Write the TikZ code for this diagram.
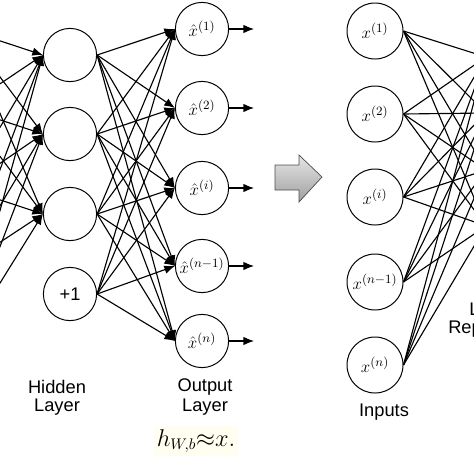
\documentclass[tikz,border=0pt]{standalone}
\usepackage{fontspec}
\setsansfont{Liberation Sans}
\usepackage{amsmath}
\usetikzlibrary{arrows.meta}

\begin{document}
\begin{tikzpicture}[x = 0.025cm, y = -0.025cm,
	unit/.style = {circle, draw, line width = 0.7pt, minimum size = 1.33cm, inner sep = 0pt, font = \fontsize{13}{15}\selectfont},
	feed/.style = {-{Latex[length = 7.5pt, width = 6pt]}, line width = 0.8pt},
	link/.style = {line width = 0.8pt},
	caption/.style = {font = \sffamily\fontsize{13}{15}\selectfont, inner sep = 0pt}]
	\useasboundingbox (0, 0) rectangle (474, 474);
	\clip (0, 0) rectangle (474, 474);

	% left net: inputs lie outside the frame
	\coordinate (inA) at (-36,  29);
	\coordinate (inB) at (-36, 108);
	\coordinate (inC) at (-36, 188);
	\coordinate (inD) at (-36, 266);
	\coordinate (inE) at (-36, 341);
	\node[unit] (hidA) at (70,  55) {};
	\node[unit] (hidB) at (70, 134) {};
	\node[unit] (hidC) at (70, 214) {};
	\node[unit, font = \sffamily\fontsize{13}{15}\selectfont] (bias) at (70, 294) {+1};
	\node[unit] (outA) at (202,  29) {$\hat{x}^{(1)}$};
	\node[unit] (outB) at (202, 108) {$\hat{x}^{(2)}$};
	\node[unit] (outC) at (202, 188) {$\hat{x}^{(i)}$};
	\node[unit] (outD) at (202, 266) {$\hat{x}^{(n-1)}$};
	\node[unit] (outE) at (202, 341) {$\hat{x}^{(n)}$};
	\coordinate (endA) at (254,  29);
	\coordinate (endB) at (254, 108);
	\coordinate (endC) at (254, 188);
	\coordinate (endD) at (254, 266);
	\coordinate (endE) at (254, 341);

	\draw[feed] (inA) -- (hidA.west);
	\draw[feed] (inB) -- (hidA.west);
	\draw[feed] (inC) -- (hidA.west);
	\draw[feed] (inD) -- (hidA.west);
	\draw[feed] (inE) -- (hidA.west);
	\draw[feed] (inA) -- (hidB.west);
	\draw[feed] (inB) -- (hidB.west);
	\draw[feed] (inC) -- (hidB.west);
	\draw[feed] (inD) -- (hidB.west);
	\draw[feed] (inE) -- (hidB.west);
	\draw[feed] (inA) -- (hidC.west);
	\draw[feed] (inB) -- (hidC.west);
	\draw[feed] (inC) -- (hidC.west);
	\draw[feed] (inD) -- (hidC.west);
	\draw[feed] (inE) -- (hidC.west);

	\draw[feed] (hidA.east) -- (outA.west);
	\draw[feed] (hidA.east) -- (outB.west);
	\draw[feed] (hidA.east) -- (outC.west);
	\draw[feed] (hidA.east) -- (outD.west);
	\draw[feed] (hidA.east) -- (outE.west);
	\draw[feed] (hidB.east) -- (outA.west);
	\draw[feed] (hidB.east) -- (outB.west);
	\draw[feed] (hidB.east) -- (outC.west);
	\draw[feed] (hidB.east) -- (outD.west);
	\draw[feed] (hidB.east) -- (outE.west);
	\draw[feed] (hidC.east) -- (outA.west);
	\draw[feed] (hidC.east) -- (outB.west);
	\draw[feed] (hidC.east) -- (outC.west);
	\draw[feed] (hidC.east) -- (outD.west);
	\draw[feed] (hidC.east) -- (outE.west);
	\draw[feed] (bias.east) -- (outA.west);
	\draw[feed] (bias.east) -- (outB.west);
	\draw[feed] (bias.east) -- (outC.west);
	\draw[feed] (bias.east) -- (outD.west);
	\draw[feed] (bias.east) -- (outE.west);

	\draw[feed] (outA.east) -- (endA);
	\draw[feed] (outB.east) -- (endB);
	\draw[feed] (outC.east) -- (endC);
	\draw[feed] (outD.east) -- (endD);
	\draw[feed] (outE.east) -- (endE);

	\node[caption] (hidText) at (57, 387) {Hidden};
	\node[caption] (hidText2) at (57, 407) {Layer};
	\node[caption] (outText) at (205, 387) {Output};
	\node[caption] (outText2) at (205, 407) {Layer};
	\node[fill = yellow!6, inner sep = 2pt, font = \fontsize{16}{18}\selectfont] (approx) at (196, 441) {$h_{W,b}{\approx}x.$};

	% gray block arrow
	\shade[top color = gray!20, bottom color = gray!75, draw = gray!60!black, line width = 0.5pt]
		(275, 165) -- (299, 165) -- (299, 155) -- (322, 177) -- (299, 202) -- (299, 190) -- (275, 190) -- cycle;

	% right net: latent units lie outside the frame
	\node[unit, minimum size = 1.4cm] (xA) at (375,  31) {$x^{(1)}$};
	\node[unit, minimum size = 1.4cm] (xB) at (375, 114) {$x^{(2)}$};
	\node[unit, minimum size = 1.4cm] (xC) at (375, 197) {$x^{(i)}$};
	\node[unit, minimum size = 1.4cm] (xD) at (375, 282) {$x^{(n-1)}$};
	\node[unit, minimum size = 1.4cm] (xE) at (375, 365) {$x^{(n)}$};
	\coordinate (zA) at (486,  57);
	\coordinate (zB) at (486, 113);
	\coordinate (zC) at (486, 170);
	\coordinate (zD) at (486, 226);

	\draw[link] (xA.east) -- (zA);
	\draw[link] (xA.east) -- (zB);
	\draw[link] (xA.east) -- (zC);
	\draw[link] (xA.east) -- (zD);
	\draw[link] (xB.east) -- (zA);
	\draw[link] (xB.east) -- (zB);
	\draw[link] (xB.east) -- (zC);
	\draw[link] (xB.east) -- (zD);
	\draw[link] (xC.east) -- (zA);
	\draw[link] (xC.east) -- (zB);
	\draw[link] (xC.east) -- (zC);
	\draw[link] (xC.east) -- (zD);
	\draw[link] (xD.east) -- (zA);
	\draw[link] (xD.east) -- (zB);
	\draw[link] (xD.east) -- (zC);
	\draw[link] (xD.east) -- (zD);
	\draw[link] (xE.east) -- (zA);
	\draw[link] (xE.east) -- (zB);
	\draw[link] (xE.east) -- (zC);
	\draw[link] (xE.east) -- (zD);

	\node[caption] (inText) at (384, 412) {Inputs};
	\node[caption, anchor = west] (latText) at (469, 309) {Latent};
	\node[caption, anchor = west] (latText2) at (448, 329) {Representation};
\end{tikzpicture}
\end{document}
